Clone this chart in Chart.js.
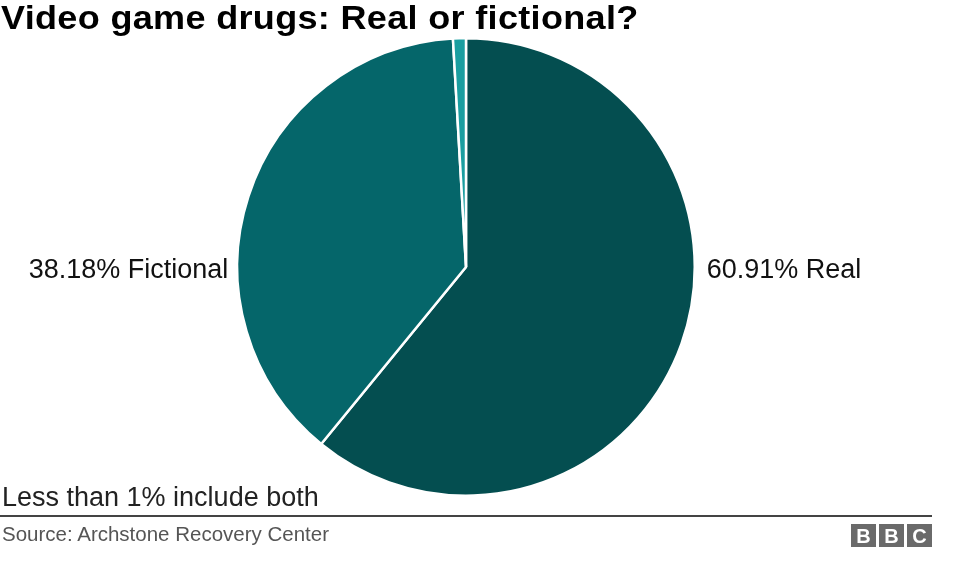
<!DOCTYPE html>
<html>
<head>
<meta charset="utf-8">
<script src="https://cdn.jsdelivr.net/npm/chart.js@4"></script>
<style>
  html, body { margin: 0; padding: 0; background: #fff; }
  body { width: 976px; height: 564px; position: relative; overflow: hidden; font-family: "Liberation Sans", Arial, sans-serif; }
  #title { position: absolute; left: 1px; top: -2px; font-size: 34px; font-weight: bold; color: #000; letter-spacing: 0.3px; white-space: nowrap; transform: scaleX(1.06); transform-origin: left top; }
  #note { position: absolute; left: 2px; top: 482px; font-size: 27px; color: #222; white-space: nowrap; }
  #rule { position: absolute; left: 0; top: 515px; width: 932px; height: 2px; background: #444; }
  #source { position: absolute; left: 2px; top: 522px; font-size: 20.5px; color: #555; white-space: nowrap; }
  #bbc { position: absolute; left: 851px; top: 524px; display: flex; gap: 3px; }
  #bbc span { width: 25px; height: 23px; background: #6a6a6a; color: #fff; font-weight: bold; font-size: 20px; text-align: center; line-height: 24px; }
  #wrap { position: absolute; left: 0; top: 0; width: 976px; height: 564px; }
</style>
</head>
<body>
<div id="wrap"><canvas id="pie"></canvas></div>
<div id="title">Video game drugs: Real or fictional?</div>
<div id="note">Less than 1% include both</div>
<div id="rule"></div>
<div id="source">Source: Archstone Recovery Center</div>
<div id="bbc"><span>B</span><span>B</span><span>C</span></div>
<script>
  // data
  const categories = ['Real', 'Fictional', 'Both'];
  const shares = [60.91, 38.18, 0.91];
  const sliceColors = ['#044e50', '#05666a', '#1a9ea0'];
  // which slices get a side label, and on which side
  const labelSide = { 'Real': 'right', 'Fictional': 'left' };

  const sideLabels = {
    id: 'sideLabels',
    afterDatasetsDraw(chart) {
      const ctx = chart.ctx;
      const meta = chart.getDatasetMeta(0);
      ctx.save();
      ctx.font = '27px "Liberation Sans", Arial, sans-serif';
      ctx.fillStyle = '#111';
      ctx.textBaseline = 'alphabetic';
      meta.data.forEach((arc, i) => {
        const side = labelSide[categories[i]];
        if (!side) return;
        const text = shares[i].toFixed(2) + '% ' + categories[i];
        if (side === 'right') {
          ctx.textAlign = 'left';
          ctx.fillText(text, arc.x + arc.outerRadius + 12, arc.y + 11);
        } else {
          ctx.textAlign = 'right';
          ctx.fillText(text, arc.x - arc.outerRadius - 9, arc.y + 11);
        }
      });
      ctx.restore();
    }
  };

  new Chart(document.getElementById('pie'), {
    type: 'pie',
    data: {
      labels: categories,
      datasets: [{
        data: shares,
        backgroundColor: sliceColors,
        borderColor: '#ffffff',
        borderWidth: 2.5
      }]
    },
    options: {
      responsive: true,
      maintainAspectRatio: false,
      animation: false,
      layout: { padding: { left: 236, right: 280, top: 37, bottom: 67 } },
      plugins: {
        legend: { display: false },
        tooltip: { enabled: false }
      }
    },
    plugins: [sideLabels]
  });
</script>
</body>
</html>
